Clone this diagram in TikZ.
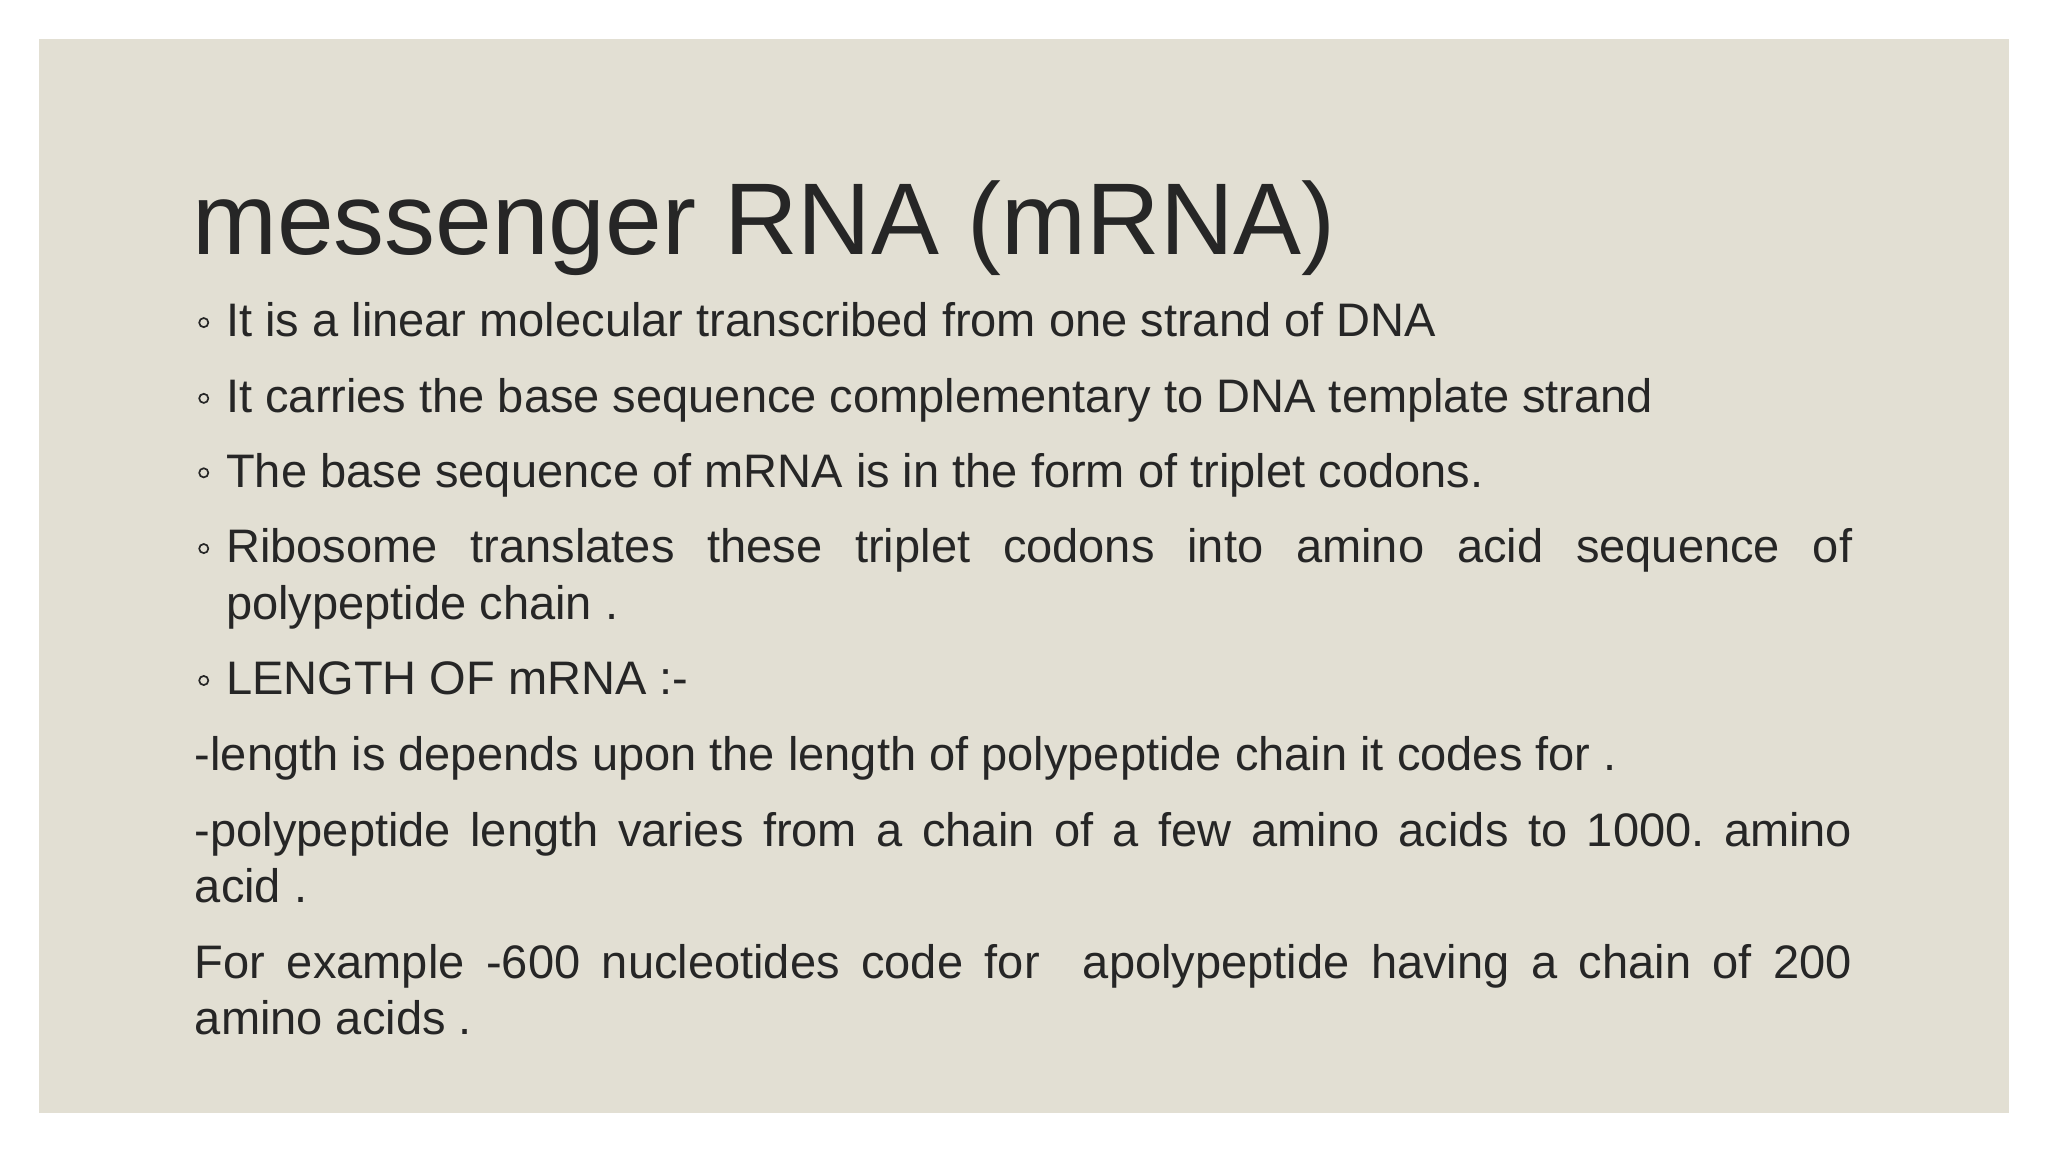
\documentclass[tikz,border=0pt]{standalone}
\usepackage{fontspec}
\setmainfont{Liberation Sans}
\definecolor{slide}{HTML}{E2DFD3}
\definecolor{ink}{HTML}{262626}
\frenchspacing
\begin{document}
\begin{tikzpicture}[x=1pt,y=-1pt,
  body/.style={anchor=base west,inner sep=0pt,text=ink,font=\fontsize{36}{42}\selectfont},
  bul/.style={draw=ink,line width=1.3pt,circle,inner sep=0pt,minimum size=7pt}]
\useasboundingbox (0,0) rectangle (1568,882);
\fill[white] (0,0) rectangle (1568,882);
\fill[slide] (30,30) rectangle (1538,852);
\node[anchor=base west,inner sep=0pt,text=ink,font=\fontsize{78}{86}\selectfont] (title) at (147,195) {messenger RNA (mRNA)};
\node[body] (l1) at (173,258) {It is a linear molecular transcribed from one strand of DNA};
\node[body] (l2) at (173,316) {It carries the base sequence complementary to DNA template strand};
\node[body] (l3) at (173,373) {The base sequence of mRNA is in the form of triplet codons.};
\node[body] (l4) at (173,431) {\makebox[1245pt][s]{Ribosome translates these triplet codons into amino acid sequence of}};
\node[body] (l4b) at (173,474) {polypeptide chain .};
\node[body] (l5) at (173,532) {LENGTH OF mRNA :-};
\node[body] (l6) at (149,590) {-length is depends upon the length of polypeptide chain it codes for .};
\node[body] (l7) at (149,648) {\makebox[1269pt][s]{-polypeptide length varies from a chain of a few amino acids to 1000. amino}};
\node[body] (l7b) at (149,691) {acid .};
\node[body] (l8) at (149,749) {\makebox[1269pt][s]{For example -600 nucleotides code for \ apolypeptide having a chain of 200}};
\node[body] (l8b) at (149,792) {amino acids .};
\foreach \y in {247,305,362,420,521} \node[bul] at (156,\y) {};
\end{tikzpicture}
\end{document}
